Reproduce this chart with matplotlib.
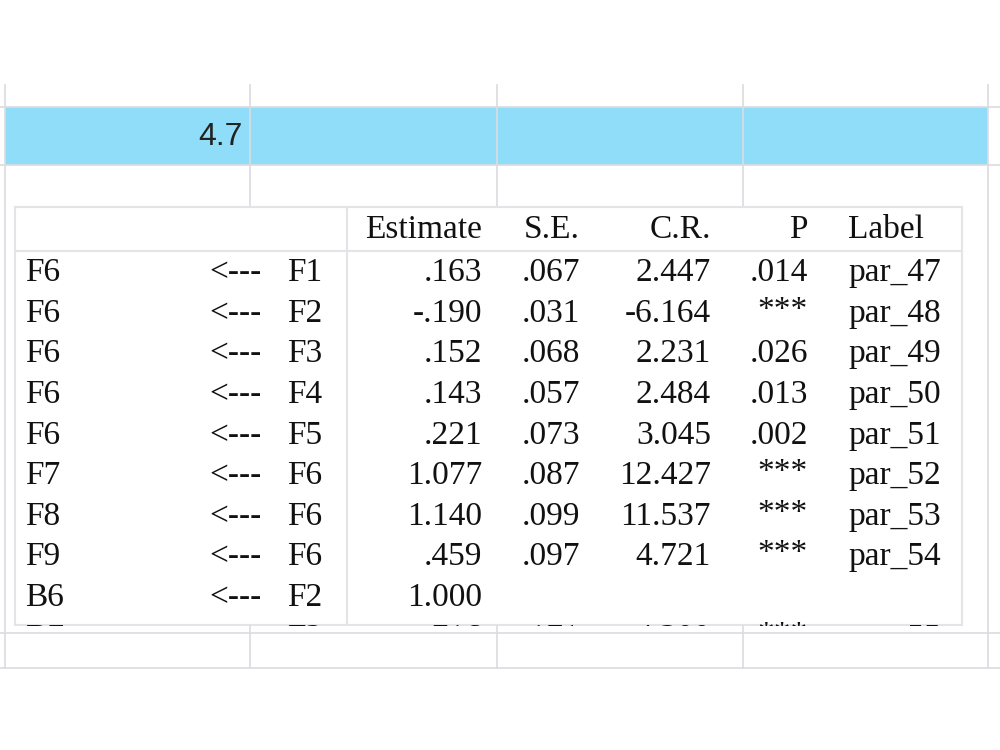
import matplotlib
matplotlib.use("Agg")
import matplotlib.pyplot as plt
from matplotlib.patches import Rectangle

header = ["Estimate", "S.E.", "C.R.", "P", "Label"]
sources = ["F6", "F6", "F6", "F6", "F6", "F7", "F8", "F9", "B6", "B7"]
targets = ["F1", "F2", "F3", "F4", "F5", "F6", "F6", "F6", "F2", "F2"]
estimates = [".163", "-.190", ".152", ".143", ".221", "1.077", "1.140", ".459", "1.000", ".716"]
ses = [".067", ".031", ".068", ".057", ".073", ".087", ".099", ".097", "", ".171"]
crs = ["2.447", "-6.164", "2.231", "2.484", "3.045", "12.427", "11.537", "4.721", "", "4.200"]
ps = [".014", "***", ".026", ".013", ".002", "***", "***", "***", "", "***"]
labels = ["par_47", "par_48", "par_49", "par_50", "par_51", "par_52", "par_53", "par_54", "", "par_55"]
cell_value = "4.7"

fig = plt.figure(figsize=(10, 7.5), dpi=100)
ax = fig.add_axes([0, 0, 1, 1])
ax.set_xlim(0, 1000)
ax.set_ylim(750, 0)
ax.axis("off")

grid = "#dcdce0"
ax.add_patch(Rectangle((5, 107), 983, 58, facecolor="#8fddf8", edgecolor="none"))
for x in [5, 250, 497, 743, 988]:
    ax.plot([x, x], [85, 668], color=grid, lw=1.2, zorder=1)
for y in [107, 165, 668]:
    ax.plot([0, 1000], [y, y], color=grid, lw=1.2, zorder=1)
ax.text(243, 137, cell_value, ha="right", va="center", fontsize=23,
        family="Liberation Sans", color="#222")

ax.add_patch(Rectangle((15, 207), 947, 418, facecolor="white", edgecolor="#e4e4e8", lw=1.5, zorder=2))
ax.plot([15, 962], [251, 251], color="#e4e4e8", lw=1.5, zorder=3)
ax.plot([347, 347], [207, 625], color="#e4e4e8", lw=1.5, zorder=3)

fs = 24
kw = dict(va="center", fontsize=fs, family="Liberation Serif", color="#111", zorder=4)
hy = 230
ax.text(482, hy, header[0], ha="right", **kw)
ax.text(580, hy, header[1], ha="right", **kw)
ax.text(711, hy, header[2], ha="right", **kw)
ax.text(808, hy, header[3], ha="right", **kw)
ax.text(848, hy, header[4], ha="left", **kw)

for i in range(len(sources)):
    y = 273 + i * 40.6
    ax.text(25, y, sources[i], ha="left", **kw)
    ax.text(262, y, "<---", ha="right", **kw)
    ax.text(287, y, targets[i], ha="left", **kw)
    ax.text(482, y, estimates[i], ha="right", **kw)
    ax.text(580, y, ses[i], ha="right", **kw)
    ax.text(711, y, crs[i], ha="right", **kw)
    ax.text(808, y - (3 if ps[i] == "***" else 0), ps[i], ha="right", **kw)
    ax.text(848, y, labels[i], ha="left", **kw)

# cover the cut-off part of the last row
ax.add_patch(Rectangle((0, 626), 1000, 80, facecolor="white", edgecolor="none", zorder=5))
ax.plot([0, 1000], [633, 633], color=grid, lw=1.2, zorder=6)
ax.plot([0, 1000], [668, 668], color=grid, lw=1.2, zorder=6)
for x in [5, 250, 497, 743, 988]:
    ax.plot([x, x], [626, 668], color=grid, lw=1.2, zorder=6)

fig.savefig("out.png", dpi=100)
